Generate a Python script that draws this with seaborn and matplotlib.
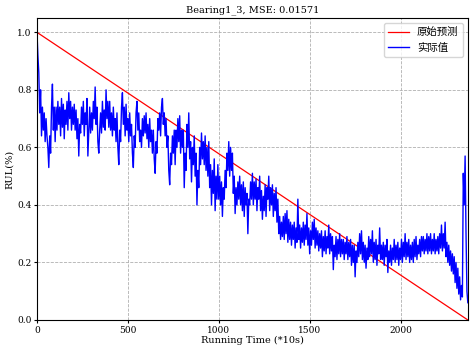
import numpy as np
import pandas as pd
import matplotlib
matplotlib.use('Agg')
import matplotlib.pyplot as plt
import seaborn as sns

title = 'Bearing1_3, MSE: 0.01571'
label_pred = '原始预测'
label_true = '实际值'
step = 5
n_total = 2375

rul_true = [
    1.00, 0.92, 0.86, 0.72, 0.80, 0.64, 0.74, 0.66, 0.72, 0.62, 0.70, 0.64, 0.60, 0.53, 0.64, 0.58, 0.74, 0.82, 0.66, 0.74,
    0.62, 0.74, 0.66, 0.76, 0.68, 0.74, 0.64, 0.77, 0.67, 0.75, 0.63, 0.73, 0.68, 0.76, 0.66, 0.79, 0.70, 0.76, 0.66, 0.74,
    0.68, 0.75, 0.66, 0.73, 0.63, 0.70, 0.57, 0.68, 0.65, 0.74, 0.68, 0.76, 0.64, 0.72, 0.68, 0.77, 0.57, 0.66, 0.74, 0.65,
    0.72, 0.66, 0.76, 0.70, 0.81, 0.68, 0.74, 0.62, 0.58, 0.66, 0.72, 0.65, 0.76, 0.67, 0.73, 0.66, 0.80, 0.70, 0.76, 0.67,
    0.76, 0.66, 0.72, 0.64, 0.74, 0.66, 0.70, 0.62, 0.72, 0.60, 0.54, 0.66, 0.62, 0.74, 0.79, 0.68, 0.74, 0.64, 0.75, 0.66,
    0.70, 0.62, 0.72, 0.64, 0.68, 0.58, 0.53, 0.64, 0.60, 0.72, 0.76, 0.66, 0.72, 0.62, 0.66, 0.60, 0.70, 0.64, 0.71, 0.65,
    0.72, 0.63, 0.68, 0.60, 0.70, 0.62, 0.66, 0.58, 0.66, 0.56, 0.51, 0.62, 0.58, 0.70, 0.66, 0.72, 0.64, 0.74, 0.77, 0.68,
    0.72, 0.64, 0.70, 0.60, 0.64, 0.52, 0.47, 0.58, 0.54, 0.64, 0.58, 0.66, 0.54, 0.66, 0.60, 0.70, 0.62, 0.71, 0.58, 0.66,
    0.60, 0.66, 0.46, 0.58, 0.52, 0.68, 0.60, 0.72, 0.56, 0.62, 0.48, 0.60, 0.54, 0.64, 0.50, 0.58, 0.40, 0.52, 0.46, 0.60,
    0.54, 0.65, 0.56, 0.62, 0.54, 0.64, 0.52, 0.60, 0.50, 0.62, 0.46, 0.54, 0.40, 0.52, 0.44, 0.56, 0.38, 0.50, 0.42, 0.54,
    0.42, 0.50, 0.40, 0.48, 0.36, 0.46, 0.42, 0.52, 0.46, 0.58, 0.52, 0.62, 0.50, 0.60, 0.52, 0.58, 0.44, 0.50, 0.37, 0.46,
    0.40, 0.48, 0.42, 0.50, 0.40, 0.47, 0.38, 0.48, 0.36, 0.46, 0.40, 0.44, 0.30, 0.42, 0.40, 0.48, 0.42, 0.51, 0.40, 0.48,
    0.42, 0.49, 0.38, 0.46, 0.42, 0.50, 0.38, 0.45, 0.35, 0.43, 0.38, 0.47, 0.36, 0.46, 0.42, 0.50, 0.38, 0.46, 0.40, 0.47,
    0.36, 0.44, 0.38, 0.46, 0.34, 0.42, 0.30, 0.36, 0.28, 0.34, 0.29, 0.36, 0.28, 0.37, 0.30, 0.38, 0.27, 0.35, 0.28, 0.34,
    0.26, 0.33, 0.28, 0.34, 0.25, 0.32, 0.27, 0.42, 0.28, 0.33, 0.25, 0.32, 0.27, 0.34, 0.26, 0.33, 0.28, 0.37, 0.26, 0.32,
    0.23, 0.31, 0.26, 0.34, 0.28, 0.35, 0.25, 0.32, 0.26, 0.31, 0.24, 0.30, 0.25, 0.31, 0.22, 0.29, 0.24, 0.31, 0.23, 0.29,
    0.25, 0.33, 0.23, 0.30, 0.24, 0.29, 0.175, 0.26, 0.22, 0.29, 0.21, 0.28, 0.23, 0.30, 0.22, 0.28, 0.23, 0.28, 0.21, 0.27,
    0.23, 0.29, 0.21, 0.27, 0.22, 0.28, 0.19, 0.26, 0.20, 0.26, 0.15, 0.24, 0.20, 0.27, 0.22, 0.30, 0.23, 0.31, 0.21, 0.27,
    0.20, 0.26, 0.18, 0.25, 0.21, 0.29, 0.22, 0.28, 0.23, 0.31, 0.20, 0.27, 0.21, 0.28, 0.19, 0.26, 0.23, 0.32, 0.21, 0.26,
    0.21, 0.27, 0.19, 0.26, 0.22, 0.28, 0.165, 0.24, 0.20, 0.26, 0.19, 0.25, 0.21, 0.28, 0.20, 0.26, 0.21, 0.27, 0.19, 0.25,
    0.21, 0.28, 0.20, 0.27, 0.22, 0.30, 0.21, 0.27, 0.22, 0.28, 0.20, 0.26, 0.21, 0.27, 0.20, 0.28, 0.22, 0.29, 0.21, 0.26,
    0.23, 0.28, 0.22, 0.29, 0.24, 0.29, 0.23, 0.28, 0.24, 0.30, 0.23, 0.29, 0.24, 0.30, 0.23, 0.28, 0.24, 0.30, 0.23, 0.28,
    0.24, 0.29, 0.23, 0.30, 0.25, 0.33, 0.24, 0.30, 0.25, 0.34, 0.22, 0.27, 0.20, 0.26, 0.19, 0.24, 0.17, 0.23, 0.16, 0.22,
    0.13, 0.20, 0.11, 0.18, 0.09, 0.15, 0.07, 0.12, 0.08, 0.51, 0.40, 0.57, 0.30, 0.10, 0.06,
]
# linear label: full life at start, zero at failure
pred_time = [0, n_total - 5]
rul_pred = [1.0, 0.0]

time_true = np.arange(len(rul_true)) * step

plt.rcParams['font.family'] = ['DejaVu Serif', 'Noto Sans CJK SC']
plt.rcParams['font.size'] = 7
plt.rcParams['axes.unicode_minus'] = False

fig, ax = plt.subplots(figsize=(4.74, 3.52), dpi=100)
fig.subplots_adjust(left=0.078, right=0.987, top=0.949, bottom=0.091)

sns.lineplot(x=pred_time, y=rul_pred, color='red', linewidth=0.9, label=label_pred, ax=ax)
sns.lineplot(x=time_true, y=rul_true, color='blue', linewidth=1.0, label=label_true, ax=ax)

ax.set_xlim(0, n_total - 5)
ax.set_ylim(0, 1.05)
ax.set_xticks([0, 500, 1000, 1500, 2000])
ax.set_yticks([0.0, 0.2, 0.4, 0.6, 0.8, 1.0])
ax.grid(True, linestyle='--', color='#b0b0b0', linewidth=0.6)
ax.set_title(title, fontsize=7, pad=4)
ax.set_xlabel('Running Time (*10s)', fontsize=7, labelpad=1)
ax.set_ylabel('RUL(%)', fontsize=7, labelpad=2)
ax.tick_params(labelsize=6.5, length=2.5, pad=1.5)
ax.legend(loc='upper right', fontsize=7.5)

fig.savefig('out.png', dpi=100)
plt.close()
